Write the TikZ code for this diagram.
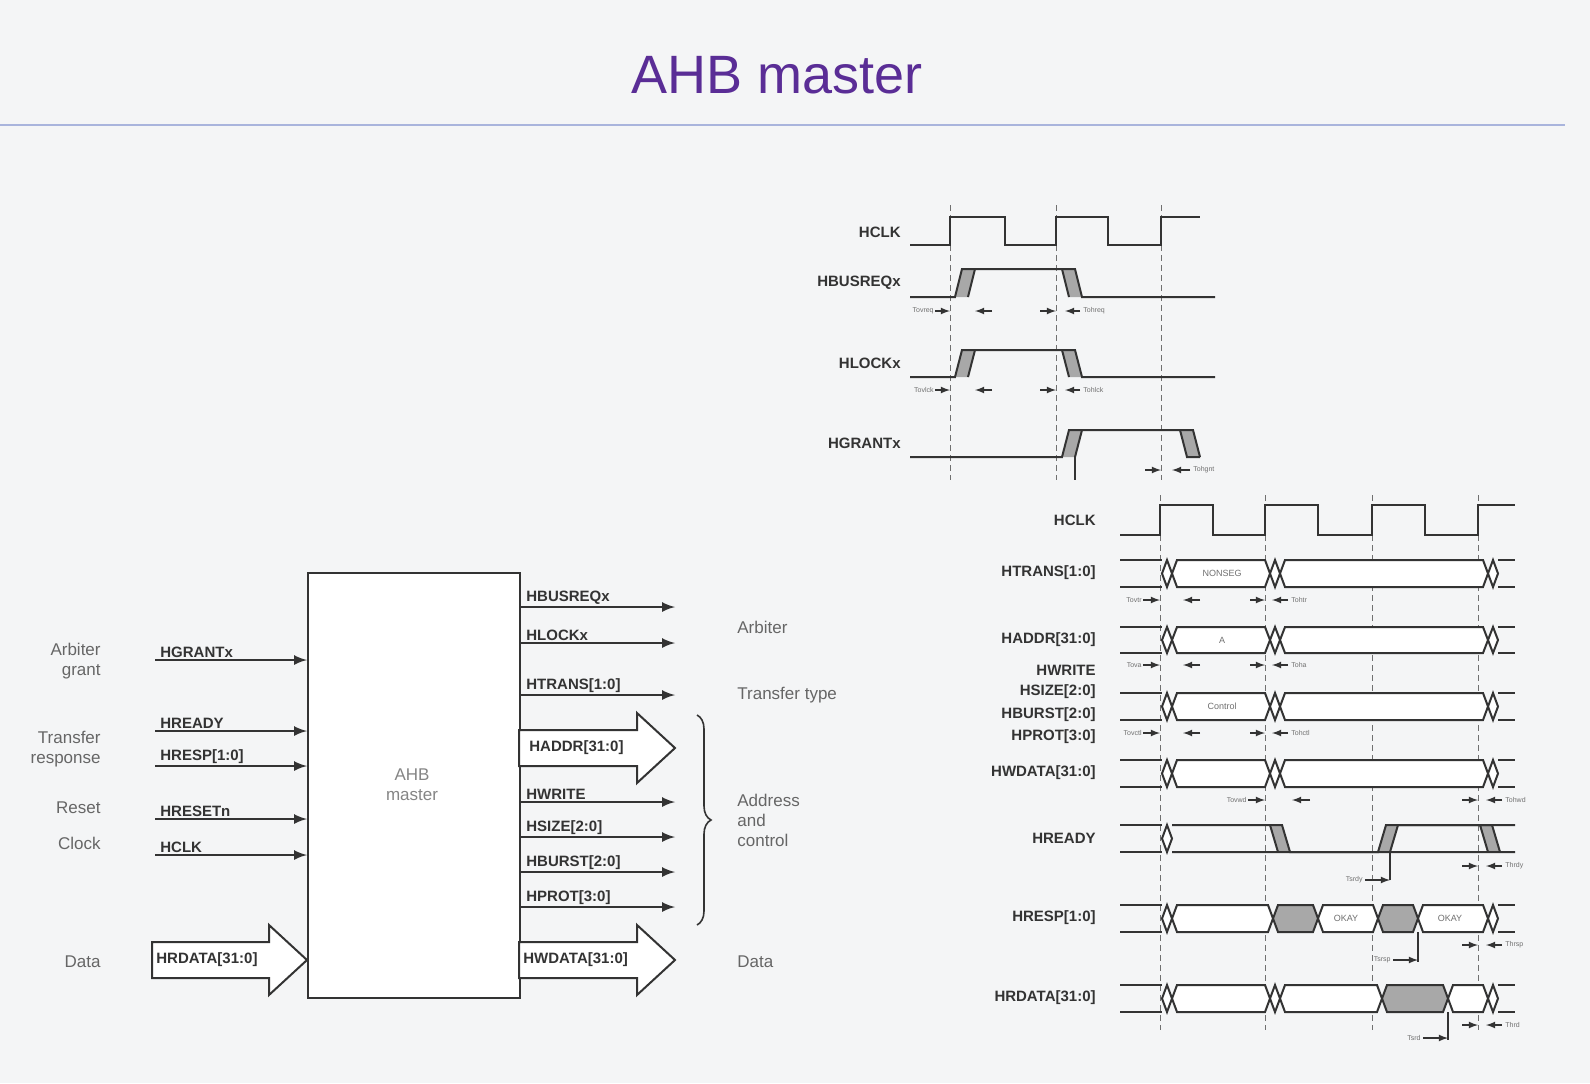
\documentclass[tikz,border=0pt]{standalone}
\usepackage{fontspec}
\setmainfont{Liberation Sans}
\usetikzlibrary{positioning,decorations.pathreplacing}
\definecolor{bgcol}{HTML}{F4F5F6}
\definecolor{titlecol}{HTML}{5A2D96}
\definecolor{rulecol}{HTML}{A9B4DC}
\definecolor{inkcol}{HTML}{333333}
\definecolor{shadecol}{HTML}{A8A8A8}
\tikzset{
  sig/.style={font=\fontsize{7.5}{8}\selectfont\bfseries, text=inkcol, inner sep=1pt},
  grp/.style={font=\fontsize{8.5}{10}\selectfont, text=inkcol!75, align=right, inner sep=1pt},
  tim/.style={font=\fontsize{3.5}{4}\selectfont, text=inkcol!70, inner sep=0.5pt},
  wave/.style={draw=inkcol, line width=1pt},
  clkline/.style={draw=inkcol!70, dash pattern=on 3pt off 2pt, line width=0.4pt},
  sigarrow/.style={draw=inkcol, line width=1.2pt, -latex},
  tarrow/.style={draw=inkcol, line width=0.6pt, -latex},
}
% bus segment: x1, x2, top, bottom, fill
\newcommand{\busseg}[5]{%
  \filldraw[wave, fill=#5] (#1,{(#3+#4)/2}) -- (#1+5,#3) -- (#2-5,#3) -- (#2,{(#3+#4)/2})
    -- (#2-5,#4) -- (#1+5,#4) -- cycle;}
% hollow bus arrow: x1, x2, centre y
\newcommand{\hollowarrow}[3]{%
  \draw[wave, fill=white] (#1,#3-18) -- (#2-38,#3-18) -- (#2-38,#3-35) -- (#2,#3)
    -- (#2-38,#3+35) -- (#2-38,#3+18) -- (#1,#3+18) -- cycle;}
\begin{document}
\begin{tikzpicture}[x=0.5pt,y=-0.5pt]
    \fill[bgcol] (0,0) rectangle (1590,1083);
    \useasboundingbox (0,0) rectangle (1590,1083);
    % Title
    \node[text=titlecol, font=\fontsize{27}{30}\selectfont] (title) at (777,75) {AHB master};
    \draw[rulecol, line width=1pt] (0,125) -- (1565,125);

    % Master block
    \node[draw=inkcol, line width=0.8pt, fill=white, minimum width=106pt, minimum height=212.5pt,
          anchor=north west, inner sep=0pt] (Master) at (307,572) {};
    \node[grp, align=center, text=inkcol!60] (MasterText) at (412,785) {AHB\\master};

    % Inputs
    \foreach \name/\y/\i in {HGRANTx/660/1,HREADY/731/2,HRESP[1:0]/766/3,HRESETn/819/4,HCLK/855/5} {
        \coordinate (In-\i) at (155,\y);
        \coordinate (InEnd-\i) at (307,\y);
        \draw[sigarrow] (In-\i) -- (InEnd-\i);
        \node[sig, anchor=south west] (InLabel-\i) at (158,\y) {\name};
    }
    \foreach \txt/\y/\i in {Arbiter\\grant/661/1,Transfer\\response/749/2,Reset/808/3,Clock/843/4,Data/962/5} {
        \node[grp, anchor=east] (Group-\i) at (103,\y) {\txt};
    }
    \hollowarrow{152}{307}{960}
    \node[sig, anchor=west] (InData) at (154,960) {HRDATA[31:0]};

    % Outputs
    \foreach \name/\y/\i in {HBUSREQx/607/1,HLOCKx/643/2,HTRANS[1:0]/695/3,HWRITE/802/4,HSIZE[2:0]/837/5,HBURST[2:0]/872/6,HPROT[3:0]/907/7} {
        \coordinate (Out-\i) at (519,\y);
        \coordinate (OutEnd-\i) at (675,\y);
        \draw[sigarrow] (Out-\i) -- (OutEnd-\i);
        \node[sig, anchor=south west] (OutLabel-\i) at (524,\y) {\name};
    }
    \hollowarrow{519}{675}{748}
    \node[sig, anchor=west] (OutAddr) at (527,748) {HADDR[31:0]};
    \hollowarrow{519}{675}{960}
    \node[sig, anchor=west] (OutData) at (521,960) {HWDATA[31:0]};
    \coordinate (BraceTop) at (697,715);
    \coordinate (BraceBot) at (697,925);
    \draw[inkcol, line width=0.8pt, decorate, decoration={brace, amplitude=7pt}] (BraceTop) -- (BraceBot);
    \foreach \txt/\y/\i in {Arbiter/627/1,Transfer type/695/2,Address\\and\\control/820/3,Data/962/4} {
        \node[grp, align=left, anchor=west] (OutGroup-\i) at (735,\y) {\txt};
    }

    % Upper timing diagram
    \foreach \x in {950,1056,1161} {
        \draw[clkline] (\x,205) -- (\x,480);
    }
    \draw[wave] (910,245) -- (950,245) -- (950,217) -- (1005,217) -- (1005,245) -- (1056,245)
        -- (1056,217) -- (1108,217) -- (1108,245) -- (1161,245) -- (1161,217) -- (1200,217);
    \foreach \name/\lo/\hi/\i in {HBUSREQx/297/269/1,HLOCKx/377/350/2} {
        \fill[shadecol] (955,\lo) -- (962,\hi) -- (975,\hi) -- (968,\lo) -- cycle;
        \fill[shadecol] (1062,\hi) -- (1069,\lo) -- (1082,\lo) -- (1075,\hi) -- cycle;
        \draw[wave] (910,\lo) -- (955,\lo) -- (962,\hi) -- (1075,\hi) -- (1082,\lo) -- (1215,\lo);
        \draw[wave] (968,\lo) -- (975,\hi) (1062,\hi) -- (1069,\lo);
        \node[sig, anchor=east] (TopLabel-\i) at (903,{\lo-14}) {\name};
    }
    \fill[shadecol] (1062,457) -- (1069,430) -- (1082,430) -- (1075,457) -- cycle;
    \fill[shadecol] (1180,430) -- (1187,457) -- (1200,457) -- (1193,430) -- cycle;
    \draw[wave] (910,457) -- (1062,457) -- (1069,430) -- (1193,430) -- (1200,457) -- (1200,457);
    \draw[wave] (1075,457) -- (1082,430) (1180,430) -- (1187,457) -- (1200,457);
    \draw[wave] (1075,457) -- (1075,480);
    \node[sig, anchor=east] (TopLabel-3) at (903,443) {HGRANTx};
    \node[sig, anchor=east] (TopLabel-0) at (903,232) {HCLK};
    \foreach \y/\a/\b/\i in {311/Tovreq/Tohreq/1,390/Tovlck/Tohlck/2} {
        \node[tim, anchor=east] (TopTa-\i) at (935,\y) {\a};
        \draw[tarrow] (935,\y) -- (950,\y);
        \draw[tarrow] (992,\y) -- (975,\y);
        \draw[tarrow] (1040,\y) -- (1056,\y);
        \draw[tarrow] (1080,\y) -- (1065,\y);
        \node[tim, anchor=west] (TopTb-\i) at (1082,\y) {\b};
    }
    \draw[tarrow] (1145,470) -- (1161,470);
    \draw[tarrow] (1190,470) -- (1172,470);
    \node[tim, anchor=west] (TopTc) at (1192,470) {Tohgnt};

    % Lower timing diagram
    \foreach \x in {1160,1265,1372,1478} {
        \draw[clkline] (\x,495) -- (\x,1030);
    }
    \draw[wave] (1120,535) -- (1160,535) -- (1160,505) -- (1213,505) -- (1213,535) -- (1265,535)
        -- (1265,505) -- (1318,505) -- (1318,535) -- (1372,535) -- (1372,505) -- (1425,505)
        -- (1425,535) -- (1478,535) -- (1478,505) -- (1515,505);
    \node[sig, anchor=east] (BotLabel-0) at (1098,520) {HCLK};
    % plain buses
    \foreach \t/\b in {560/587,627/653,693/720,760/787} {
        \draw[wave] (1120,\t) -- (1162,\t) (1120,\b) -- (1162,\b);
        \foreach \xa/\xb in {1162/1172,1172/1270,1270/1280,1280/1488,1488/1498} {
            \busseg{\xa}{\xb}{\t}{\b}{white}
        }
        \draw[wave] (1498,\t) -- (1515,\t) (1498,\b) -- (1515,\b);
    }
    \node[tim, font=\fontsize{4.5}{5}\selectfont] (BusText-1) at (1222,573) {NONSEG};
    \node[tim, font=\fontsize{4.5}{5}\selectfont] (BusText-2) at (1222,640) {A};
    \node[tim, font=\fontsize{4.5}{5}\selectfont] (BusText-3) at (1222,706) {Control};
    \foreach \name/\y/\i in {HTRANS[1:0]/573/1,HADDR[31:0]/640/2,HWRITE/670/3,HSIZE[2:0]/692/4,HBURST[2:0]/715/5,HPROT[3:0]/737/6,HWDATA[31:0]/773/7,HREADY/838/8,HRESP[1:0]/918/9,HRDATA[31:0]/998/10} {
        \node[sig, anchor=east] (BotLabel-\i) at (1098,\y) {\name};
    }
    % HREADY
    \draw[wave] (1120,825) -- (1162,825) (1120,852) -- (1162,852);
    \busseg{1162}{1172}{825}{852}{white}
    \fill[shadecol] (1270,825) -- (1278,852) -- (1290,852) -- (1282,825) -- cycle;
    \fill[shadecol] (1378,852) -- (1386,825) -- (1398,825) -- (1390,852) -- cycle;
    \fill[shadecol] (1480,825) -- (1488,852) -- (1500,852) -- (1492,825) -- cycle;
    \draw[wave] (1172,825) -- (1282,825) -- (1290,852) -- (1515,852);
    \draw[wave] (1172,852) -- (1378,852) -- (1386,825) -- (1492,825) -- (1500,852);
    \draw[wave] (1270,825) -- (1278,852) (1390,852) -- (1398,825) -- (1515,825) (1480,825) -- (1488,852);
    \draw[wave] (1390,852) -- (1390,880);
    % HRESP
    \draw[wave] (1120,905) -- (1162,905) (1120,932) -- (1162,932);
    \foreach \xa/\xb/\c in {1162/1172/white,1172/1273/white,1273/1318/shadecol,1318/1378/white,1378/1418/shadecol,1418/1488/white,1488/1498/white} {
        \busseg{\xa}{\xb}{905}{932}{\c}
    }
    \draw[wave] (1498,905) -- (1515,905) (1498,932) -- (1515,932);
    \draw[wave] (1418,932) -- (1418,962);
    \node[tim, font=\fontsize{4.5}{5}\selectfont] (BusText-4) at (1346,918) {OKAY};
    \node[tim, font=\fontsize{4.5}{5}\selectfont] (BusText-5) at (1450,918) {OKAY};
    % HRDATA
    \draw[wave] (1120,985) -- (1162,985) (1120,1012) -- (1162,1012);
    \foreach \xa/\xb/\c in {1162/1172/white,1172/1270/white,1270/1280/white,1280/1382/white,1382/1448/shadecol,1448/1488/white,1488/1498/white} {
        \busseg{\xa}{\xb}{985}{1012}{\c}
    }
    \draw[wave] (1498,985) -- (1515,985) (1498,1012) -- (1515,1012);
    \draw[wave] (1448,1012) -- (1448,1040);
    % timing marks
    \foreach \y/\a/\b/\i in {600/Tovtr/Tohtr/1,665/Tova/Toha/2,733/Tovctl/Tohctl/3} {
        \node[tim, anchor=east] (BotTa-\i) at (1143,\y) {\a};
        \draw[tarrow] (1143,\y) -- (1160,\y);
        \draw[tarrow] (1200,\y) -- (1183,\y);
        \draw[tarrow] (1250,\y) -- (1265,\y);
        \draw[tarrow] (1288,\y) -- (1272,\y);
        \node[tim, anchor=west] (BotTb-\i) at (1290,\y) {\b};
    }
    \node[tim, anchor=east] (BotTa-4) at (1248,800) {Tovwd};
    \draw[tarrow] (1248,800) -- (1265,800);
    \draw[tarrow] (1310,800) -- (1292,800);
    \foreach \y/\a/\xs/\i in {800/Tohwd/1,866/Thrdy/2,945/Thrsp/3,1025/Thrd/4} {
        \draw[tarrow] (1462,\y) -- (1478,\y);
        \draw[tarrow] (1502,\y) -- (1486,\y);
        \node[tim, anchor=west] (BotTc-\i) at (1504,\y) {\a};
    }
    \foreach \y/\a/\x/\i in {880/Tsrdy/1390/1,960/Tsrsp/1418/2,1038/Tsrd/1448/3} {
        \draw[tarrow] (\x-25,\y) -- (\x,\y);
        \node[tim, anchor=east] (BotTd-\i) at (\x-26,\y) {\a};
    }
\end{tikzpicture}
\end{document}
